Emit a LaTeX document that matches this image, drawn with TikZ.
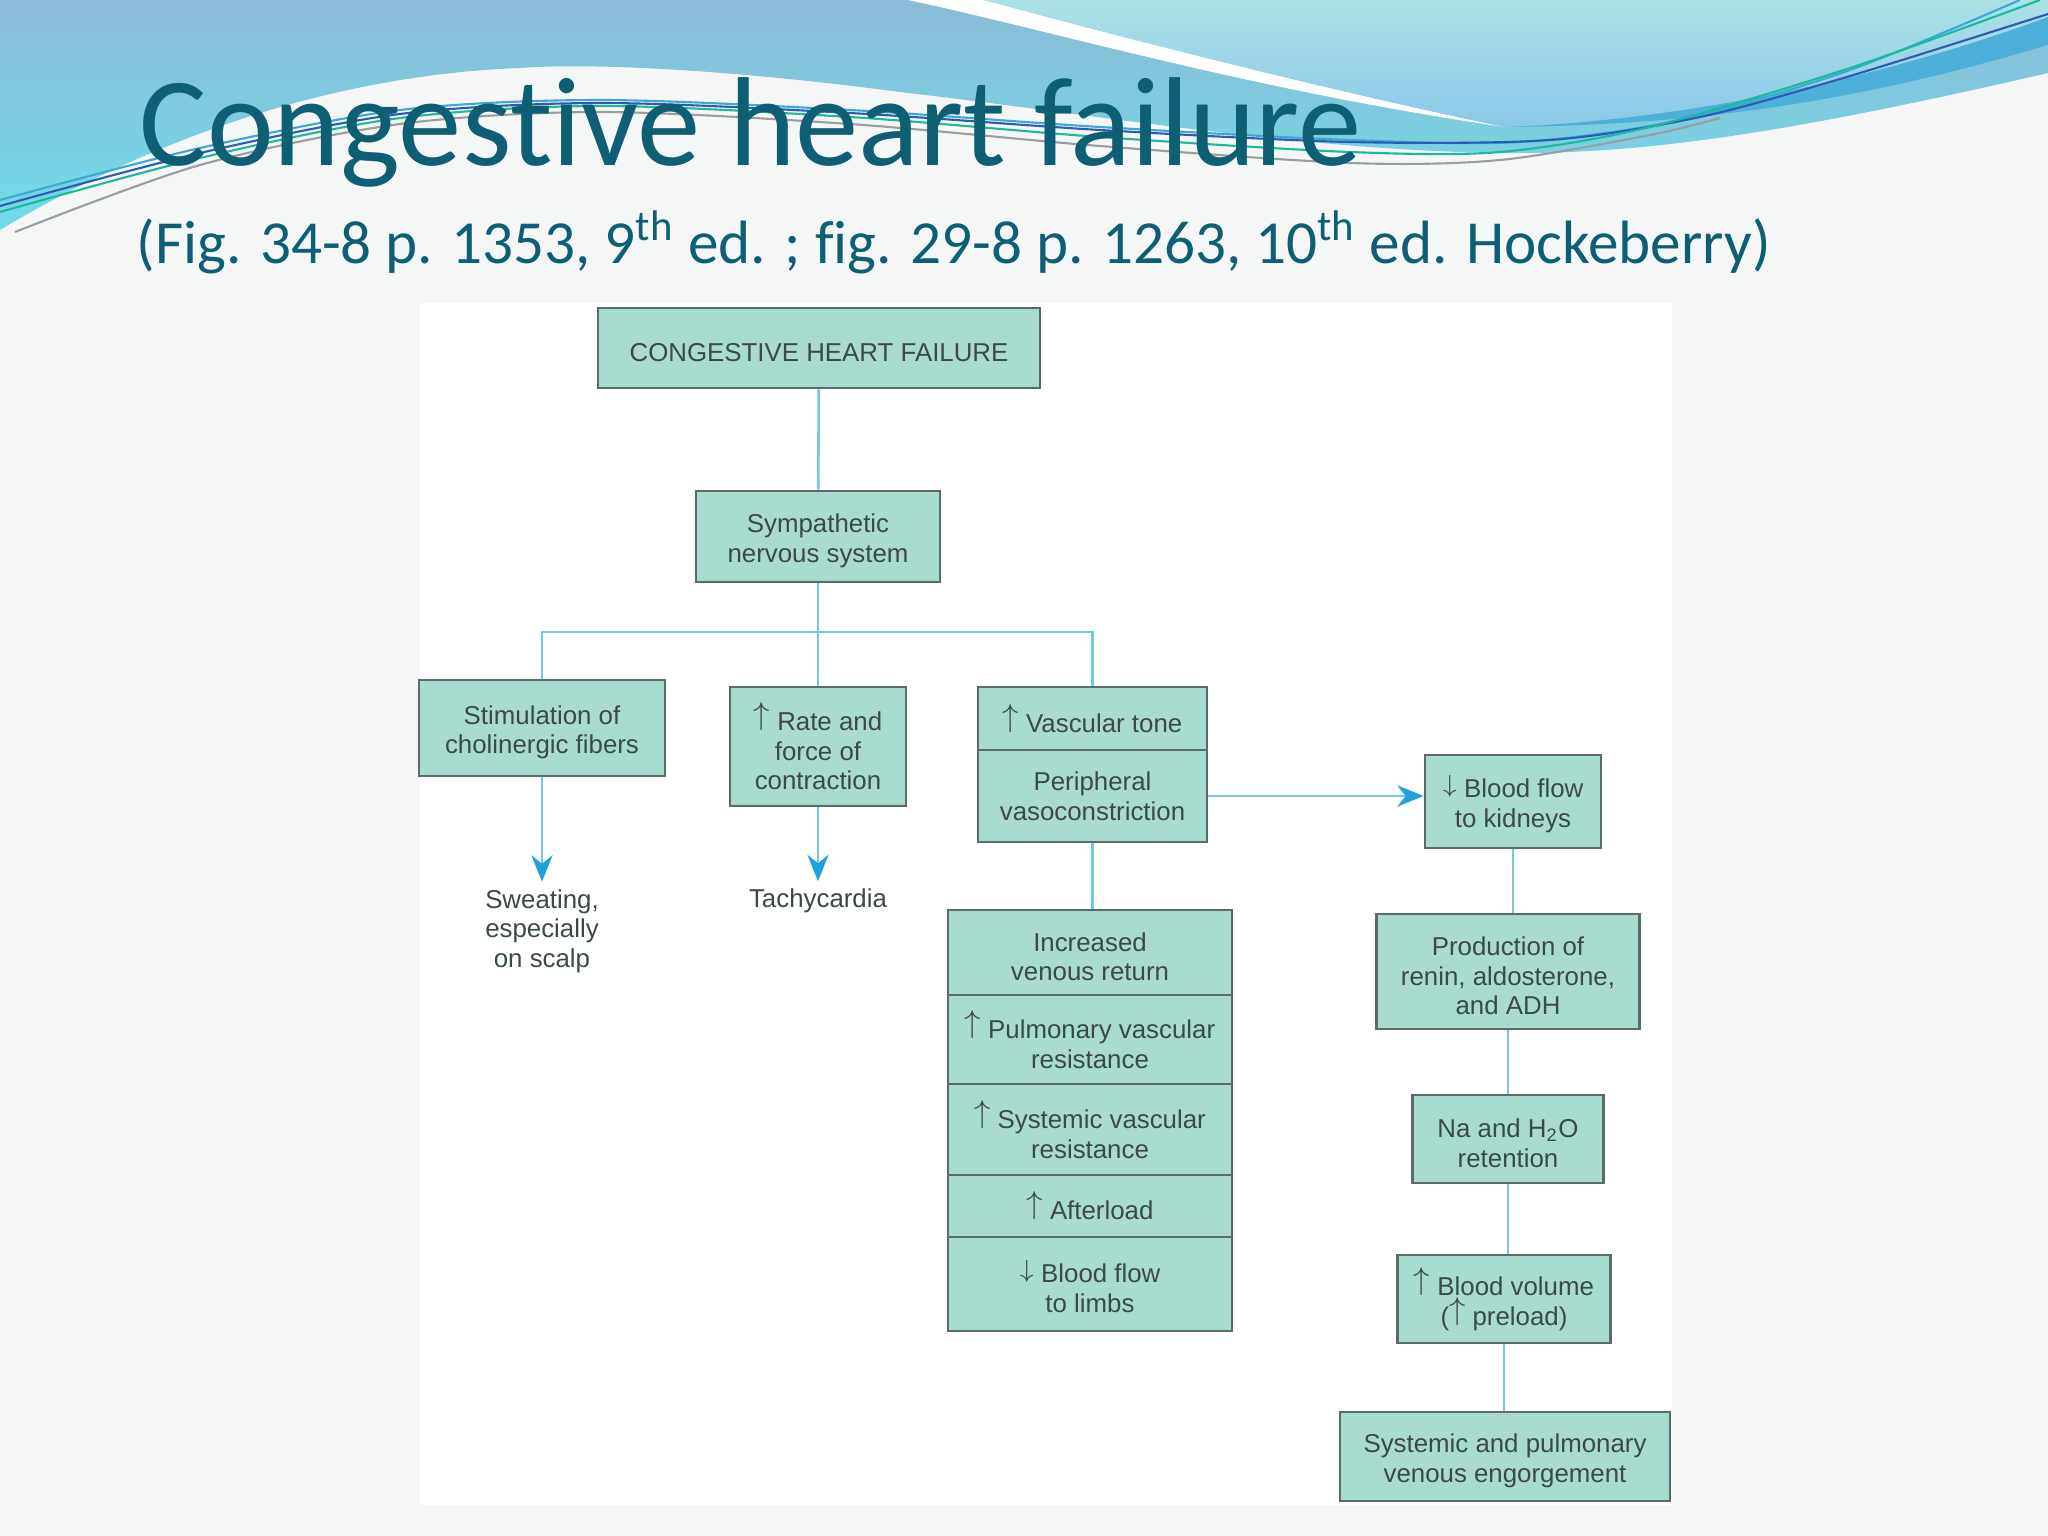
\documentclass[tikz,border=0pt]{standalone}
\usepackage{fontspec}
\setmainfont{Liberation Sans}
\newfontfamily\titlefont[Ligatures=NoCommon]{Carlito}
\usetikzlibrary{arrows.meta}

\definecolor{slidebg}{HTML}{F5F6F6}
\definecolor{waveTop}{HTML}{8BBBD6}
\definecolor{waveLow}{HTML}{70DCE8}
\definecolor{cyanTop}{HTML}{ABE2E5}
\definecolor{cyanLow}{HTML}{8AC8EA}
\definecolor{bandblue}{HTML}{4DAFDA}
\definecolor{lineGreen}{HTML}{1DB99B}
\definecolor{lineDark}{HTML}{2B5DB5}
\definecolor{lineLight}{HTML}{3FA7D6}
\definecolor{lineGray}{HTML}{9A9EA0}
\definecolor{titleteal}{HTML}{0E5E74}
\definecolor{boxfill}{HTML}{A9DCD1}
\definecolor{boxline}{HTML}{5A6C68}
\definecolor{linkblue}{HTML}{74C8E0}
\definecolor{tipblue}{HTML}{1FA2DB}
\definecolor{txt}{HTML}{3C4A47}

% first-line strut, tall up arrow and short down arrow on the baseline
\newcommand{\tstrut}{\rule{0pt}{7.8pt}}
\newcommand{\incr}{\raisebox{1.7pt}{\fontsize{8.7pt}{8.4pt}\selectfont$\uparrow$}}
\newcommand{\decr}{\tstrut\raisebox{1.4pt}{$\downarrow$}}

\tikzset{
  box/.style={draw=boxline, fill=boxfill, line width=0.75pt, text=txt, align=center,
    inner sep=1pt, font=\fontsize{7.35pt}{8.4pt}\selectfont},
  note/.style={text=txt, align=center, inner sep=2pt, font=\fontsize{7.35pt}{8.4pt}\selectfont},
  link/.style={draw=linkblue, line width=0.75pt},
  arr/.style={link, -{Stealth[length=7.5pt, width=6pt, inset=2.4pt, color=tipblue]}},
  wire/.style={line width=0.6pt}
}

\begin{document}
\begin{tikzpicture}[x=0.01cm, y=-0.01cm]
  \useasboundingbox (0,0) rectangle (2048,1536);
  \fill[slidebg] (0,0) rectangle (2048,1536);

  % waves at the top
  \path[top color=waveTop, bottom color=waveLow] (0,0) -- (2048,0) -- (2048,73)
    .. controls (1800,130) and (1650,155) .. (1500,153)
    .. controls (1300,150) and (1100,115) .. (900,92)
    .. controls (750,72) and (600,62) .. (520,68)
    .. controls (330,75) and (150,140) .. (0,230) -- cycle;
  \fill[white] (908,0) .. controls (1050,30) and (1250,90) .. (1505,127)
    .. controls (1350,95) and (1150,45) .. (984,0) -- cycle;
  \path[top color=cyanTop, bottom color=cyanLow] (984,0)
    .. controls (1150,45) and (1350,95) .. (1505,127)
    .. controls (1650,122) and (1850,90) .. (2048,17) -- (2048,0) -- cycle;
  \fill[bandblue] (1505,127) .. controls (1650,122) and (1850,90) .. (2048,17)
    -- (2048,45) .. controls (1880,95) and (1720,125) .. (1505,127) -- cycle;
  \draw[wire, lineGray] plot[smooth] coordinates {(15,232) (200,165) (400,124) (600,112) (850,124)
    (1100,146) (1350,163) (1500,160) (1650,135) (1720,118)};
  \draw[wire, lineLight] plot[smooth] coordinates {(0,200) (200,148) (400,110) (600,100) (850,110)
    (1100,127) (1350,140) (1520,142) (1680,120) (1850,70) (2020,0)};
  \draw[wire, lineDark] plot[smooth] coordinates {(0,206) (200,153) (400,114) (600,103) (850,113)
    (1100,130) (1350,142) (1550,140) (1700,117) (1850,76) (2048,14)};
  \draw[wire, lineGreen] plot[smooth] coordinates {(0,212) (200,158) (400,118) (600,106) (850,117)
    (1100,137) (1350,152) (1500,152) (1650,127) (1850,68) (2040,0)};

  \node[anchor=base west, inner sep=0, text=titleteal,
    font=\titlefont\fontsize{36pt}{40pt}\selectfont] (title) at (139,165) {Congestive heart failure};
  \node[anchor=base west, inner sep=0, text=titleteal,
    font=\titlefont\fontsize{17.4pt}{20pt}\selectfont] (subtitle) at (136,263)
    {(Fig. 34-8 p. 1353, 9\textsuperscript{th} ed. ; fig. 29-8 p. 1263, 10\textsuperscript{th} ed. Hockeberry)};

  % figure panel
  \fill[white] (420,303) rectangle (1672,1505);

  \node[box, minimum width=4.42cm, minimum height=0.80cm] (chf) at (819,348) {\tstrut CONGESTIVE HEART FAILURE};
  \node[box, minimum width=2.44cm, minimum height=0.91cm] (sns) at (818,536.5) {\tstrut Sympathetic\\nervous system};
  \node[box, minimum width=2.46cm, minimum height=0.96cm] (chol) at (542,728) {\tstrut Stimulation of\\cholinergic fibers};
  \node[box, minimum width=1.76cm, minimum height=1.19cm] (rate) at (818,746.5) {\incr{} Rate and\\force of\\contraction};
  \node[box, minimum width=2.29cm, minimum height=0.63cm] (vtone) at (1092.5,718.5) {\incr{} Vascular tone};
  \node[box, minimum width=2.29cm, minimum height=0.92cm] (pvaso) at (1092.5,796) {Peripheral\\vasoconstriction};
  \node[box, minimum width=1.76cm, minimum height=0.93cm] (kid) at (1513,801.5) {\decr{} Blood flow\\to kidneys};

  \foreach \name/\y/\h/\txt in {ivr/952.5/0.85/{\tstrut Increased\\venous return},
      pvr/1039.5/0.89/{\incr{} Pulmonary vascular\\resistance},
      svr/1129.5/0.91/{\incr{} Systemic vascular\\resistance},
      aft/1206/0.62/{\incr{} Afterload},
      bfl/1284/0.94/{\decr{} Blood flow\\to limbs}}
    \node[box, minimum width=2.84cm, minimum height=\h cm] (\name) at (1090,\y) {\txt};

  \node[box, minimum width=2.63cm, minimum height=1.15cm] (prod) at (1508,971.5) {\tstrut Production of\\renin, aldosterone,\\and ADH};
  \node[box, minimum width=1.91cm, minimum height=0.88cm] (na) at (1508,1139) {\tstrut Na and H\textsubscript{2}O\\retention};
  \node[box, minimum width=2.13cm, minimum height=0.88cm] (bvol) at (1504,1299) {\incr{} Blood volume\\(\incr{} preload)};
  \node[box, minimum width=3.30cm, minimum height=0.89cm] (engorg) at (1505,1456.5) {\tstrut Systemic and pulmonary\\venous engorgement};

  \node[note] (sweat) at (542,931) {Sweating,\\especially\\on scalp};
  \node[note] (tachy) at (818,901) {Tachycardia};

  \coordinate (split) at (818,632);
  \draw[link] (chf) -- (sns);
  \draw[link] (sns.south) -- (rate.north);
  \draw[link] (chol.north) |- (split) -| (vtone.north);
  \draw[arr] (chol.south) -- (sweat.north);
  \draw[arr] (rate.south) -- (tachy.north);
  \draw[arr] (pvaso.east) -- (pvaso.east -| kid.west);
  \draw[link] (pvaso.south) -- (pvaso.south |- ivr.north);
  \draw[link] (kid.south) -- (kid.south |- prod.north);
  \draw[link] (prod) -- (na);
  \draw[link] (na.south) -- (na.south |- bvol.north);
  \draw[link] (bvol.south) -- (bvol.south |- engorg.north);
\end{tikzpicture}
\end{document}
